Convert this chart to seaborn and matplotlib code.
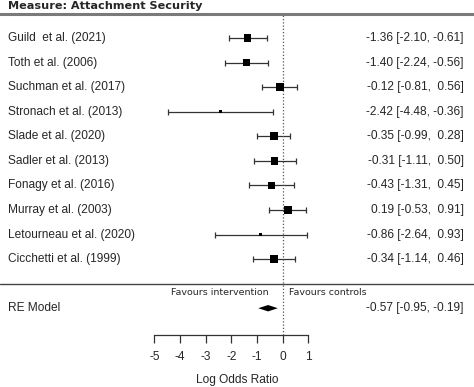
import numpy as np
import pandas as pd
import matplotlib
matplotlib.use("Agg")
import matplotlib.pyplot as plt
import seaborn as sns

# study data (log odds ratio, 95% CI, weight %)
studies = ["Guild  et al. (2021)", "Toth et al. (2006)", "Suchman et al. (2017)",
           "Stronach et al. (2013)", "Slade et al. (2020)", "Sadler et al. (2013)",
           "Fonagy et al. (2016)", "Murray et al. (2003)", "Letourneau et al. (2020)",
           "Cicchetti et al. (1999)"]
estimate = [-1.36, -1.40, -0.12, -2.42, -0.35, -0.31, -0.43, 0.19, -0.86, -0.34]
ci_low = [-2.10, -2.24, -0.81, -4.48, -0.99, -1.11, -1.31, -0.53, -2.64, -1.14]
ci_high = [-0.61, -0.56, 0.56, -0.36, 0.28, 0.50, 0.45, 0.91, 0.93, 0.46]
weight = [10.5, 10.0, 12.5, 1.6, 13.0, 10.5, 9.0, 12.5, 1.9, 10.5]

re_label = "RE Model"
re_est, re_low, re_high = -0.57, -0.95, -0.19

ticks = [-5, -4, -3, -2, -1, 0, 1]

df = pd.DataFrame({"study": studies, "est": estimate, "lo": ci_low,
                   "hi": ci_high, "w": weight})
df["row"] = np.arange(len(df), 0, -1)

sns.set_style("white")
plt.rcParams["font.family"] = ["Liberation Sans", "DejaVu Sans"]

fig = plt.figure(figsize=(4.74, 3.87), dpi=100)
ax = fig.add_axes([0, 0.1344, 1, 0.8656])

# confidence intervals
ax.errorbar(df["est"], df["row"],
            xerr=[df["est"] - df["lo"], df["hi"] - df["est"]],
            fmt="none", ecolor="#333333", elinewidth=0.9,
            capsize=2.3, capthick=0.9)

# squares sized by weight
sns.scatterplot(data=df, x="est", y="row", size="w", sizes=(0, 38),
                size_norm=(0, 14), marker="s", color="black",
                edgecolor="black", linewidth=0, legend=False, ax=ax, zorder=3)

# summary diamond
ax.fill([re_low, re_est, re_high, re_est], [-1, -0.87, -1, -1.13],
        color="black", lw=0)

# reference line
ax.vlines(0, -2.09, 10.92, colors="#555555", linestyles=(0, (1, 1.6)), lw=0.9)

# horizontal rules
ax.axhline(11, color="#7a7a7a", lw=2.2)
ax.axhline(-0.02, color="#444444", lw=1.0)

ax.text(-10.7, 11.3, "Measure: Attachment Security", fontsize=8.1,
        fontweight="bold", family="DejaVu Sans", va="center", ha="left")

for _, r in df.iterrows():
    ax.text(-10.7, r["row"], r["study"], fontsize=8.6, va="center", ha="left")
    ax.text(7.05, r["row"],
            f"{r['est']:.2f} [{r['lo']:.2f}, {r['hi']:5.2f}]",
            fontsize=8.6, va="center", ha="right")

ax.text(-10.7, -1, re_label, fontsize=8.6, va="center", ha="left")
ax.text(7.05, -1, f"{re_est:.2f} [{re_low:.2f}, {re_high:.2f}]",
        fontsize=8.6, va="center", ha="right")

ax.text(-0.55, -0.38, "Favours intervention", fontsize=6.8,
        family="DejaVu Sans", va="center", ha="right")
ax.text(0.25, -0.38, "Favours controls", fontsize=6.8,
        family="DejaVu Sans", va="center", ha="left")

ax.set_xlim(-11.01, 7.45)
ax.set_ylim(-2.09, 11.55)
for s in ["top", "left", "right"]:
    ax.spines[s].set_visible(False)
ax.spines["bottom"].set_bounds(-5, 1)
ax.spines["bottom"].set_color("#333333")
ax.spines["bottom"].set_linewidth(0.9)
ax.set_xticks(ticks)
ax.set_xticklabels([str(t) for t in ticks])
ax.tick_params(axis="x", direction="out", length=5.5, width=0.9,
               color="#333333", labelsize=8.6, pad=6, bottom=True)
ax.set_yticks([])
ax.set_xlabel("Log Odds Ratio", fontsize=8.6, labelpad=8)
ax.set_ylabel("")

fig.savefig("out.png", dpi=100)
